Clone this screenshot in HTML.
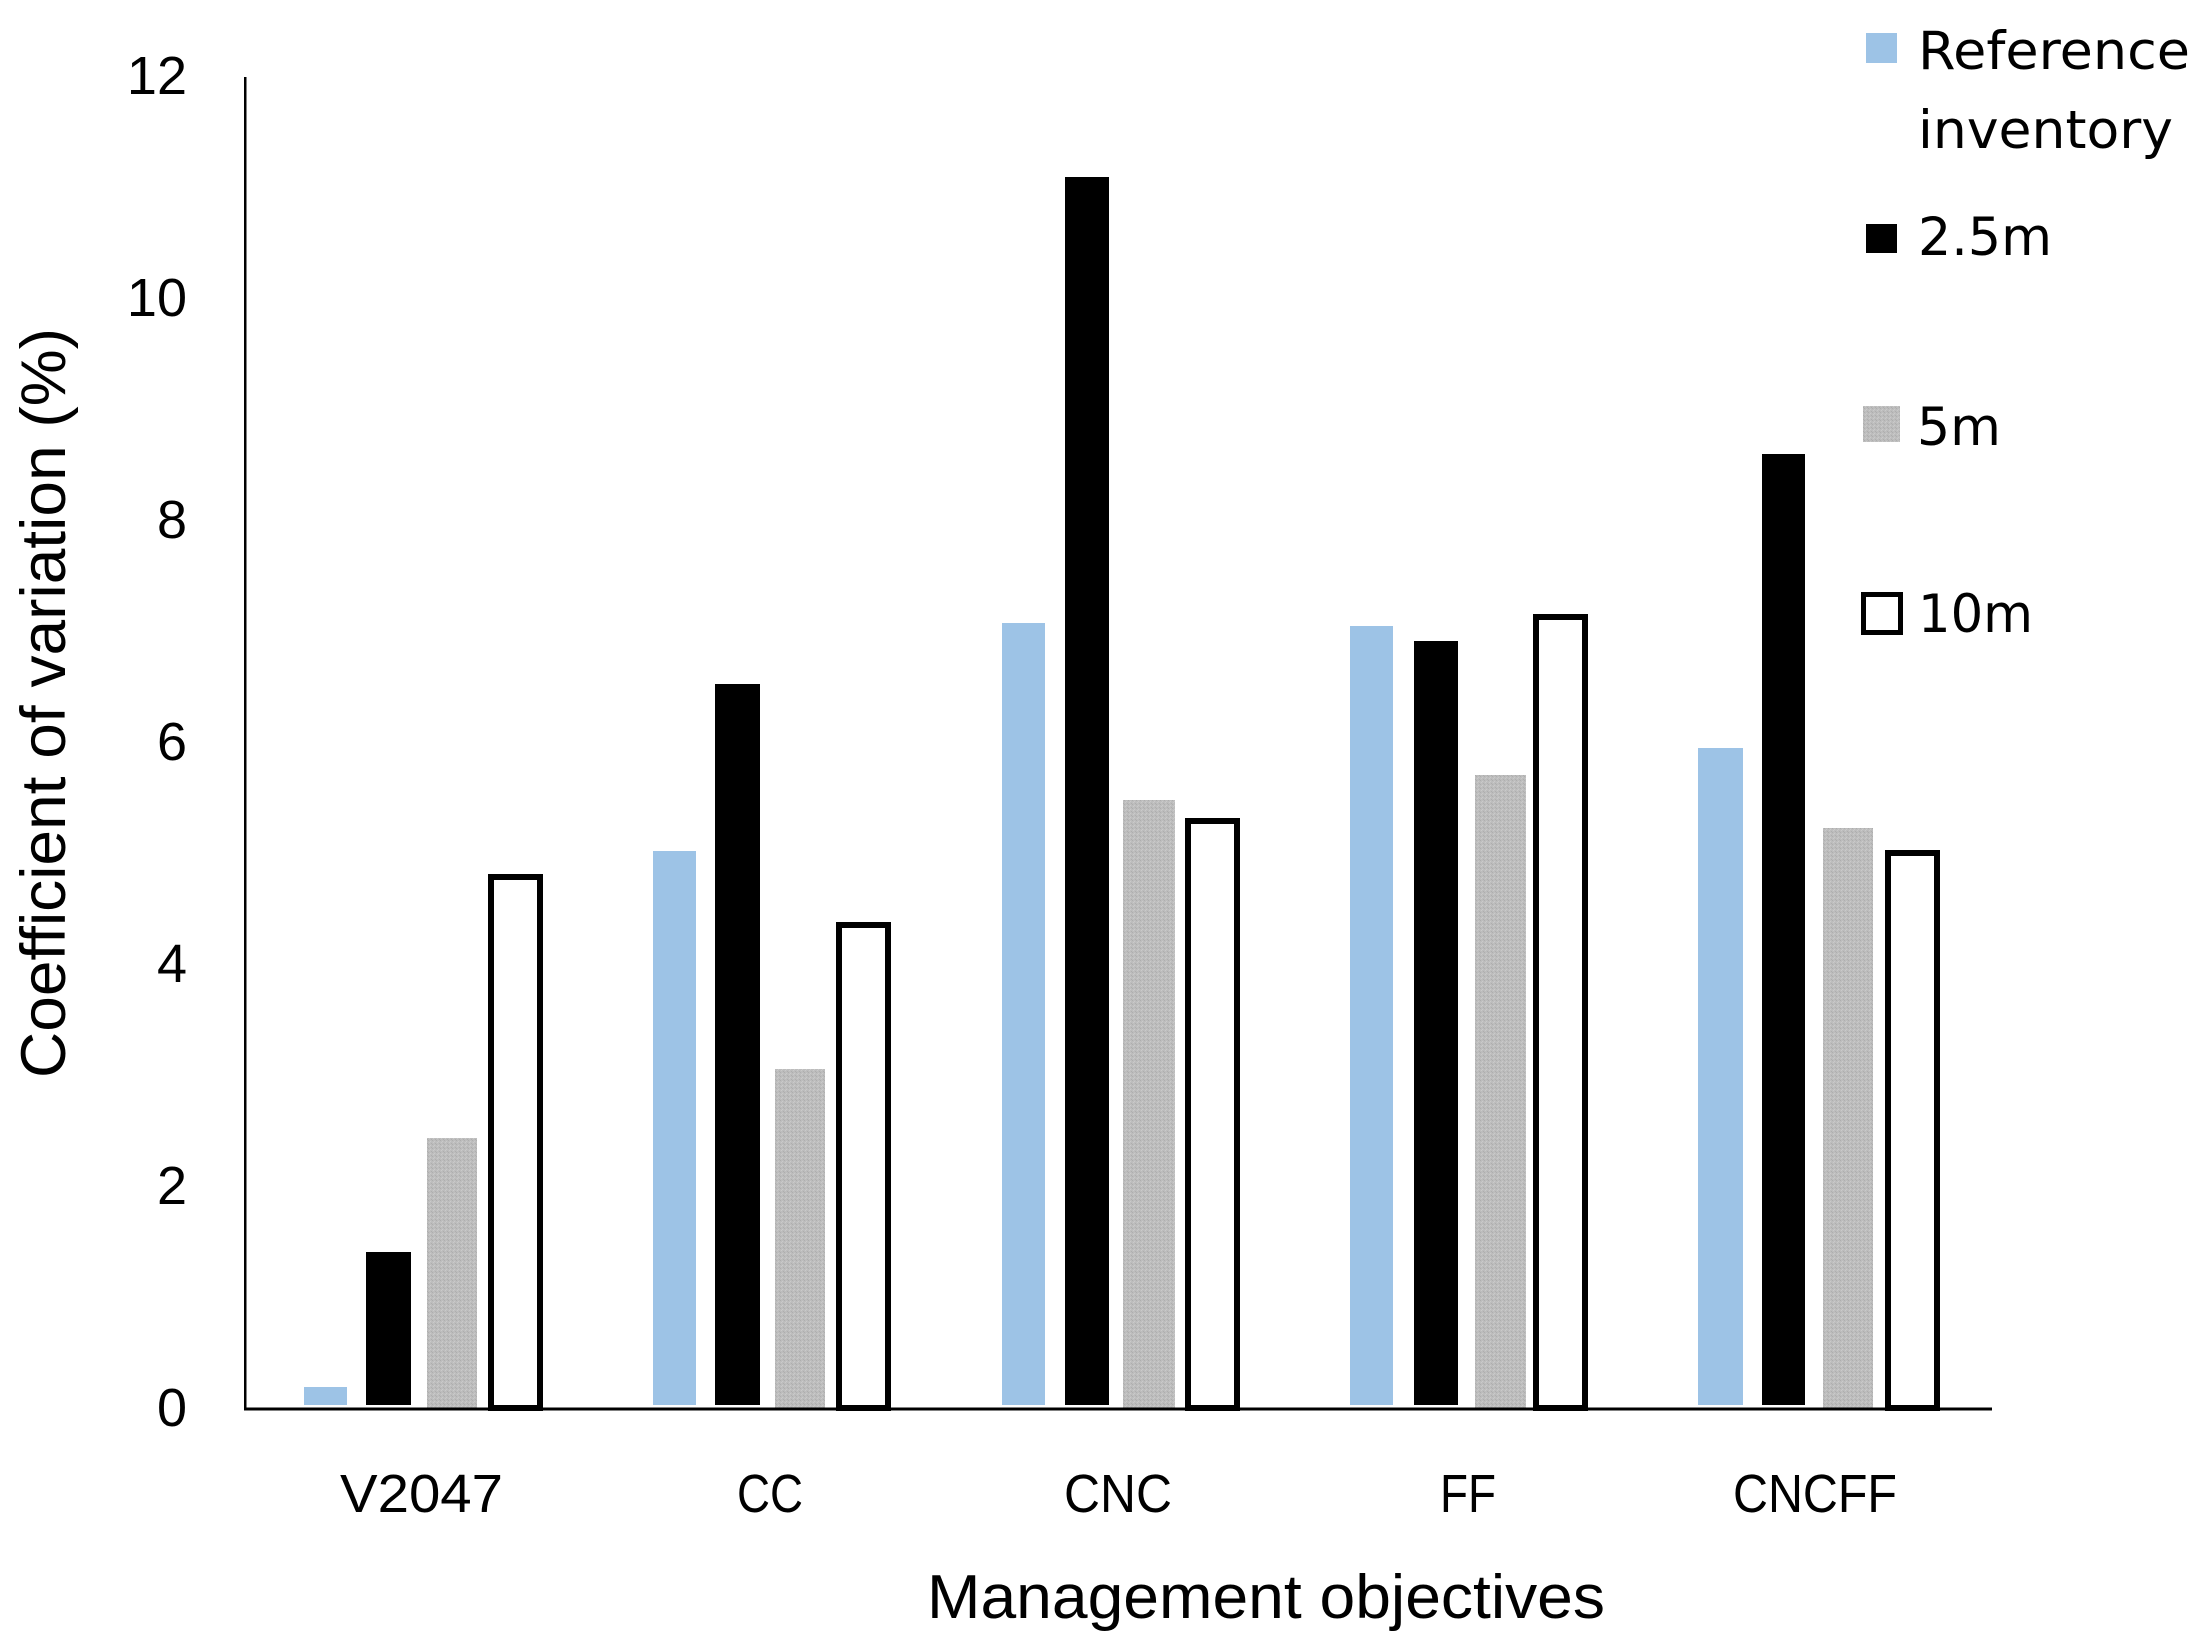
<!DOCTYPE html>
<html>
<head>
<meta charset="utf-8">
<style>
  html,body{margin:0;padding:0;background:#fff;}
  svg{display:block;}
</style>
</head>
<body>
<svg width="2209" height="1646" viewBox="0 0 2209 1646" xmlns="http://www.w3.org/2000/svg">
  <defs>
    <pattern id="dots" width="4" height="4" patternUnits="userSpaceOnUse">
      <rect width="4" height="4" fill="#bdbdbd"/>
      <rect x="0" y="0" width="1" height="1" fill="#aeaeae"/>
      <rect x="2" y="1" width="1" height="1" fill="#cacaca"/>
      <rect x="1" y="2" width="1" height="1" fill="#cacaca"/>
      <rect x="3" y="3" width="1" height="1" fill="#aeaeae"/>
    </pattern>
  </defs>
  <rect width="2209" height="1646" fill="#fff"/>

  <!-- Y tick labels -->
  <g font-family="Liberation Sans, Arial, sans-serif" font-size="54" fill="#000" text-anchor="end">
    <text x="187" y="1426">0</text>
    <text x="187" y="1204">2</text>
    <text x="187" y="982">4</text>
    <text x="187" y="760">6</text>
    <text x="187" y="538">8</text>
    <text x="187" y="316">10</text>
    <text x="187" y="94">12</text>
  </g>

  <!-- Bars -->
  <g>
    <!-- V2047 x0=304 -->
    <rect x="304" y="1387" width="43" height="18" fill="#9dc3e6"/>
    <rect x="366" y="1252" width="45" height="153" fill="#000"/>
    <rect x="427" y="1138" width="50" height="270" fill="url(#dots)"/>
    <rect x="491" y="877" width="49" height="531" fill="#fff" stroke="#000" stroke-width="6"/>

    <!-- CC x0=652.6 -->
    <rect x="653" y="851" width="43" height="554" fill="#9dc3e6"/>
    <rect x="715" y="684" width="45" height="721" fill="#000"/>
    <rect x="775" y="1069" width="50" height="339" fill="url(#dots)"/>
    <rect x="839" y="925" width="49" height="483" fill="#fff" stroke="#000" stroke-width="6"/>

    <!-- CNC x0=1001.2 -->
    <rect x="1002" y="623" width="43" height="782" fill="#9dc3e6"/>
    <rect x="1065" y="177" width="44" height="1228" fill="#000"/>
    <rect x="1123" y="800" width="52" height="608" fill="url(#dots)"/>
    <rect x="1188" y="821" width="49" height="587" fill="#fff" stroke="#000" stroke-width="6"/>

    <!-- FF x0=1349.8 -->
    <rect x="1350" y="626" width="43" height="779" fill="#9dc3e6"/>
    <rect x="1414" y="641" width="44" height="764" fill="#000"/>
    <rect x="1475" y="775" width="51" height="633" fill="url(#dots)"/>
    <rect x="1536" y="617" width="49" height="791" fill="#fff" stroke="#000" stroke-width="6"/>

    <!-- CNCFF x0=1698.4 -->
    <rect x="1698" y="748" width="45" height="657" fill="#9dc3e6"/>
    <rect x="1762" y="454" width="43" height="951" fill="#000"/>
    <rect x="1823" y="828" width="50" height="580" fill="url(#dots)"/>
    <rect x="1888" y="853" width="49" height="555" fill="#fff" stroke="#000" stroke-width="6"/>
  </g>

  <!-- Axes -->
  <rect x="244" y="77" width="2.5" height="1333" fill="#000"/>
  <rect x="244" y="1407.5" width="1748" height="3" fill="#000"/>

  <!-- Category labels -->
  <g font-family="Liberation Sans, Arial, sans-serif" font-size="54" fill="#000" text-anchor="middle">
    <text x="421.5" y="1512" textLength="163" lengthAdjust="spacingAndGlyphs">V2047</text>
    <text x="770" y="1512" textLength="66" lengthAdjust="spacingAndGlyphs">CC</text>
    <text x="1118" y="1512" textLength="108" lengthAdjust="spacingAndGlyphs">CNC</text>
    <text x="1468" y="1512" textLength="56" lengthAdjust="spacingAndGlyphs">FF</text>
    <text x="1815" y="1512" textLength="164" lengthAdjust="spacingAndGlyphs">CNCFF</text>
  </g>

  <!-- Axis titles -->
  <text x="927" y="1618" font-family="Liberation Sans, Arial, sans-serif" font-size="62" fill="#000" textLength="678" lengthAdjust="spacingAndGlyphs">Management objectives</text>
  <text transform="translate(65,703) rotate(-90)" x="0" y="0" text-anchor="middle" font-family="Liberation Sans, Arial, sans-serif" font-size="63" fill="#000" textLength="750" lengthAdjust="spacingAndGlyphs">Coefficient of variation (%)</text>

  <!-- Legend -->
  <rect x="1866" y="33" width="31" height="30" fill="#9dc3e6"/>
  <rect x="1866" y="224" width="31" height="29" fill="#000"/>
  <rect x="1863" y="406" width="37" height="36" fill="url(#dots)"/>
  <rect x="1863.5" y="594.5" width="37" height="38" fill="#fff" stroke="#000" stroke-width="5"/>
  <g font-family="DejaVu Sans, Verdana, sans-serif" font-size="53" fill="#000">
    <text x="1918" y="69" textLength="272" lengthAdjust="spacingAndGlyphs">Reference</text>
    <text x="1918" y="148" textLength="255" lengthAdjust="spacingAndGlyphs">inventory</text>
    <text x="1918" y="255" textLength="134" lengthAdjust="spacingAndGlyphs">2.5m</text>
    <text x="1917" y="445" textLength="84" lengthAdjust="spacingAndGlyphs">5m</text>
    <text x="1918" y="632" textLength="115" lengthAdjust="spacingAndGlyphs">10m</text>
  </g>
</svg>
</body>
</html>
